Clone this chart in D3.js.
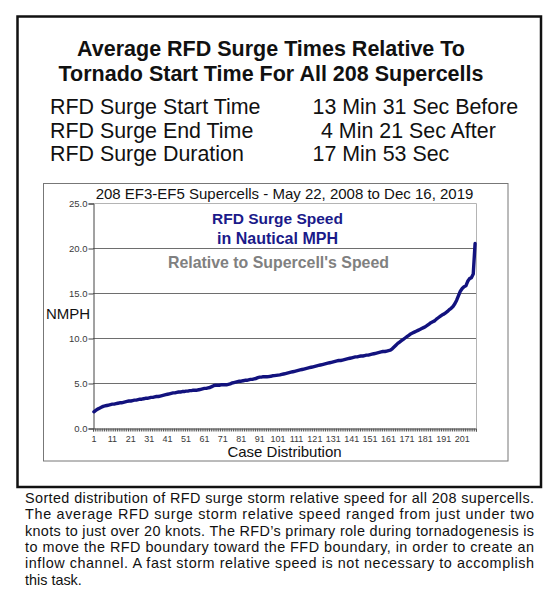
<!DOCTYPE html>
<html>
<head>
<meta charset="utf-8">
<script src="https://cdn.jsdelivr.net/npm/d3@7"></script>
<style>
  html, body { margin: 0; padding: 0; background: #fff; }
  svg { display: block; font-family: "Liberation Sans", Arial, sans-serif; }
</style>
</head>
<body>
<svg id="chart" width="560" height="600"></svg>
<script>
// ---------- DATA ----------
const titleLines = ["Average RFD Surge Times Relative To", "Tornado Start Time For All 208 Supercells"];
const statLabels = ["RFD Surge Start Time", "RFD Surge End Time", "RFD Surge Duration"];
const statValues = ["13 Min 31 Sec Before", "4 Min 21 Sec After", "17 Min 53 Sec"];
const chartHeader = "208 EF3-EF5 Supercells - May 22, 2008 to Dec 16, 2019";
const chartNotes = ["RFD Surge Speed", "in Nautical MPH"];
const chartSubNote = "Relative to Supercell's Speed";
const yLabel = "NMPH";
const xLabel = "Case Distribution";
const yTicks = [0, 5, 10, 15, 20, 25];
const xTickCases = [1, 11, 21, 31, 41, 51, 61, 71, 81, 91, 101, 111, 121, 131, 141, 151, 161, 171, 181, 191, 201];
// sorted RFD surge storm-relative speed (NMPH), cases 1..208
const speeds = [
  1.80, 1.95, 2.10, 2.20, 2.30, 2.40, 2.45, 2.50, 2.55, 2.60,
  2.65, 2.65, 2.70, 2.75, 2.80, 2.80, 2.85, 2.90, 2.95, 3.00,
  3.00, 3.05, 3.10, 3.10, 3.15, 3.20, 3.20, 3.25, 3.30, 3.30,
  3.35, 3.40, 3.40, 3.45, 3.50, 3.50, 3.55, 3.60, 3.65, 3.70,
  3.75, 3.80, 3.85, 3.90, 3.90, 3.95, 4.00, 4.00, 4.05, 4.05,
  4.10, 4.10, 4.15, 4.15, 4.20, 4.20, 4.20, 4.25, 4.30, 4.35,
  4.40, 4.40, 4.45, 4.50, 4.60, 4.70, 4.75, 4.75, 4.75, 4.80,
  4.80, 4.80, 4.80, 4.85, 4.90, 5.00, 5.05, 5.10, 5.15, 5.20,
  5.20, 5.25, 5.30, 5.30, 5.35, 5.40, 5.40, 5.45, 5.50, 5.60,
  5.65, 5.65, 5.70, 5.70, 5.70, 5.72, 5.75, 5.80, 5.82, 5.85,
  5.88, 5.90, 5.95, 6.00, 6.05, 6.10, 6.15, 6.20, 6.25, 6.30,
  6.35, 6.40, 6.45, 6.50, 6.55, 6.60, 6.65, 6.70, 6.75, 6.80,
  6.85, 6.90, 6.95, 7.00, 7.05, 7.10, 7.15, 7.20, 7.25, 7.30,
  7.35, 7.40, 7.45, 7.50, 7.50, 7.55, 7.60, 7.65, 7.70, 7.75,
  7.80, 7.85, 7.90, 7.90, 7.95, 8.00, 8.00, 8.05, 8.10, 8.10,
  8.15, 8.20, 8.25, 8.30, 8.35, 8.40, 8.45, 8.50, 8.50, 8.55,
  8.60, 8.65, 8.80, 9.00, 9.20, 9.40, 9.55, 9.70, 9.85, 10.00,
  10.15, 10.30, 10.45, 10.55, 10.65, 10.75, 10.85, 10.95, 11.05, 11.15,
  11.25, 11.40, 11.55, 11.70, 11.80, 11.90, 12.10, 12.25, 12.40, 12.55,
  12.65, 12.80, 12.95, 13.15, 13.30, 13.50, 13.80, 14.20, 14.70, 15.20,
  15.50, 15.70, 15.80, 16.30, 16.60, 16.70, 17.10, 20.50
];
const captionLines = [
  "Sorted distribution of RFD surge storm relative speed for all 208 supercells.",
  "The average RFD surge storm relative speed ranged from just under two",
  "knots to just over 20 knots.  The RFD\u2019s primary role during tornadogenesis is",
  "to move the RFD boundary toward the FFD boundary, in order to create an",
  "inflow channel.  A fast storm relative speed is not necessary to accomplish",
  "this task."
];

// ---------- DRAW ----------
const svg = d3.select("#chart");
const cases = speeds.map((v, i) => i + 1);

// outer frame
svg.append("rect").attr("x", 17.5).attr("y", 16.5).attr("width", 523.5).attr("height", 470.5)
  .attr("fill", "none").attr("stroke", "#111").attr("stroke-width", 2.5);

// titles
svg.selectAll("text.title").data(titleLines).join("text").attr("class", "title")
  .attr("x", 271).attr("y", (d, i) => 56 + i * 24.5)
  .attr("text-anchor", "middle").attr("font-size", 21.5).attr("font-weight", "bold")
  .attr("fill", "#111").text(d => d);

svg.selectAll("text.slab").data(statLabels).join("text").attr("class", "slab")
  .attr("x", 50).attr("y", (d, i) => 114 + i * 23.7)
  .attr("font-size", 21.4).attr("fill", "#111").text(d => d);
svg.selectAll("text.sval").data(statValues).join("text").attr("class", "sval")
  .attr("x", (d, i) => i === 1 ? 321 : 312.5).attr("y", (d, i) => 114 + i * 23.7)
  .attr("font-size", 21.4).attr("fill", "#111").text(d => d);

// inner chart frame
svg.append("rect").attr("x", 43.5).attr("y", 183.5).attr("width", 464.5).attr("height", 277.5)
  .attr("fill", "#fff").attr("stroke", "#777").attr("stroke-width", 1);

const plot = { left: 93, right: 476, top: 203, bottom: 428 };
const x = d3.scaleBand().domain(cases).range([plot.left, plot.right]).padding(0);
const xLin = d3.scaleLinear().domain([0, speeds.length]).range([plot.left, plot.right]);
const y = d3.scaleLinear().domain([0, 25]).range([plot.bottom, plot.top]);

// plot border (top/right) light gray
svg.append("path")
  .attr("d", `M${plot.left},${y(25) + 0.5}H${plot.right + 0.5}V${plot.bottom}`)
  .attr("fill", "none").attr("stroke", "#b4b4b4").attr("stroke-width", 1);

// gridlines
svg.append("g").selectAll("line").data(yTicks.filter(t => t > 0 && t < 25)).join("line")
  .attr("x1", plot.left).attr("x2", plot.right)
  .attr("y1", d => Math.round(y(d)) + 0.5).attr("y2", d => Math.round(y(d)) + 0.5)
  .attr("stroke", "#6e6e6e").attr("stroke-width", 1);

// y axis
const yAxis = svg.append("g").attr("transform", `translate(${plot.left + 0.5},0.5)`)
  .call(d3.axisLeft(y).tickValues(yTicks).tickFormat(d3.format(".1f")).tickSize(5).tickPadding(1));
yAxis.select(".domain").attr("stroke", "#444");
yAxis.selectAll(".tick line").attr("stroke", "#444");
yAxis.selectAll(".tick text").attr("font-size", 9.5).attr("fill", "#3a3a3a")
  .attr("font-family", "'Liberation Sans', Arial, sans-serif");

// x axis minor ticks (every case boundary)
const xMinor = svg.append("g").attr("transform", `translate(0,${plot.bottom + 0.5})`)
  .call(d3.axisBottom(xLin).tickValues(d3.range(0, speeds.length + 1)).tickFormat("").tickSize(3));
xMinor.select(".domain").attr("stroke", "#444");
xMinor.selectAll(".tick line").attr("stroke", "#555").attr("stroke-width", 1);

// x axis labels
const xAxis = svg.append("g").attr("transform", `translate(0,${plot.bottom + 0.5})`)
  .call(d3.axisBottom(x).tickValues(xTickCases).tickSize(0).tickPadding(7));
xAxis.select(".domain").remove();
xAxis.selectAll(".tick text").attr("font-size", 9).attr("fill", "#3a3a3a")
  .attr("font-family", "'Liberation Sans', Arial, sans-serif");

// header
svg.append("text").attr("x", 284.5).attr("y", 199).attr("text-anchor", "middle")
  .attr("font-size", 15).attr("fill", "#111").text(chartHeader);

// notes
svg.selectAll("text.note").data(chartNotes).join("text").attr("class", "note")
  .attr("x", 277.5).attr("y", (d, i) => 224 + i * 19.5).attr("text-anchor", "middle")
  .attr("font-size", (d, i) => i === 0 ? 15.5 : 16).attr("font-weight", "bold").attr("fill", "#1a1a8a").text(d => d);
svg.append("text").attr("x", 278.5).attr("y", 268).attr("text-anchor", "middle")
  .attr("font-size", 15.9).attr("font-weight", "bold").attr("fill", "#808080").text(chartSubNote);

// axis titles
svg.append("text").attr("x", 46).attr("y", 319).attr("font-size", 15).attr("fill", "#111").text(yLabel);
svg.append("text").attr("x", 284.5).attr("y", 457).attr("text-anchor", "middle")
  .attr("font-size", 15).attr("fill", "#111").text(xLabel);

// data line
const line = d3.line().x((d, i) => x(cases[i]) + x.bandwidth() / 2).y(d => y(d));
svg.append("path").datum(speeds).attr("d", line)
  .attr("fill", "none").attr("stroke", "#12127e").attr("stroke-width", 3.4)
  .attr("stroke-linejoin", "round").attr("stroke-linecap", "round");

// caption (justified)
const capLeft = 25, capWidth = 509;
const cap = svg.selectAll("text.cap").data(captionLines).join("text").attr("class", "cap")
  .attr("x", capLeft).attr("y", (d, i) => 503 + i * 16.3)
  .attr("font-size", 14.4).attr("fill", "#111").text(d => d);
cap.filter((d, i) => i < captionLines.length - 1)
  .attr("textLength", capWidth).attr("lengthAdjust", "spacing");
</script>
</body>
</html>
